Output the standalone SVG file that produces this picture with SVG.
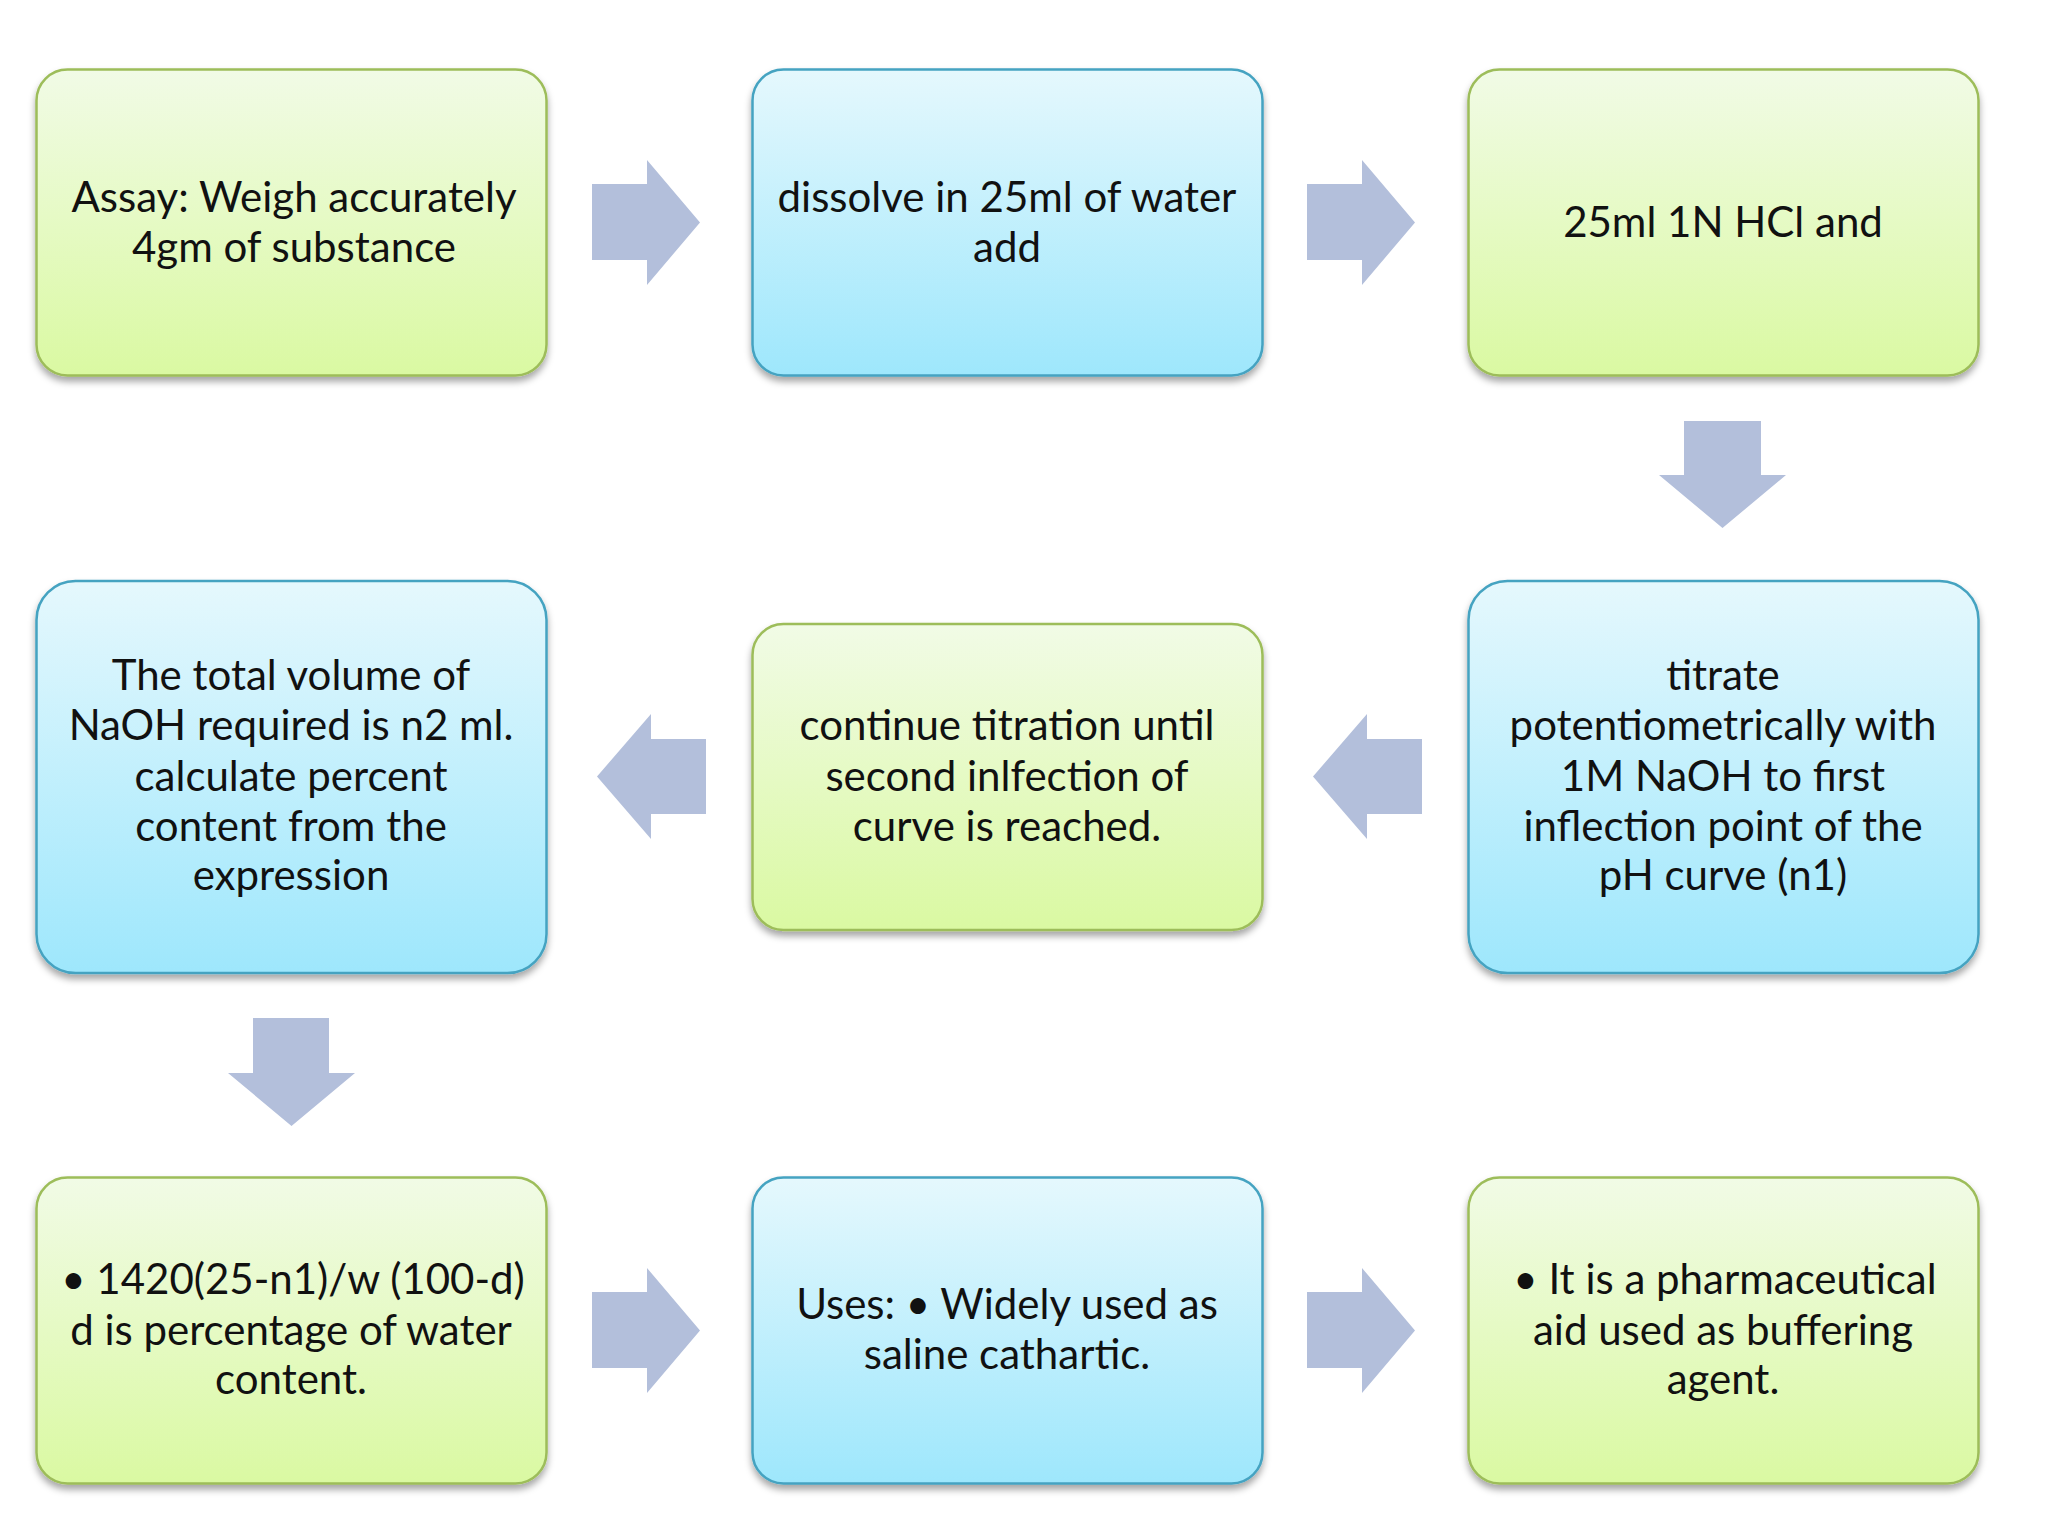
<svg xmlns="http://www.w3.org/2000/svg" width="2048" height="1536" viewBox="0 0 2048 1536">
<defs>
<linearGradient id="gGreen" x1="0" y1="0" x2="0" y2="1">
<stop offset="0" stop-color="#f1fbe6"/>
<stop offset="1" stop-color="#daf9a2"/>
</linearGradient>
<linearGradient id="gBlue" x1="0" y1="0" x2="0" y2="1">
<stop offset="0" stop-color="#e5f8fd"/>
<stop offset="1" stop-color="#9ee7fc"/>
</linearGradient>
<filter id="shadow" x="-10%" y="-10%" width="120%" height="125%">
<feDropShadow dx="0" dy="5" stdDeviation="3.5" flood-color="#000" flood-opacity="0.35"/>
</filter>
</defs>
<style>
.green { fill: url(#gGreen); stroke: #9dbd5a; stroke-width: 2.5; filter: url(#shadow); }
.blue { fill: url(#gBlue); stroke: #45a3c1; stroke-width: 2.5; filter: url(#shadow); }
.arrow { fill: #b3bfdb; }
text { font-family: Lato, "Liberation Sans", sans-serif; font-size: 42px; fill: #111; text-anchor: middle; }
</style>
<rect width="2048" height="1536" fill="#ffffff"/>
<g id="connectors">
<polygon class="arrow" points="592,184 647,184 647,160 700,222.5 647,285 647,260 592,260"/>
<polygon class="arrow" points="1307,184 1362,184 1362,160 1415,222.5 1362,285 1362,260 1307,260"/>
<polygon class="arrow" points="1684,421 1761,421 1761,475 1786,475 1722.5,528 1659,475 1684,475"/>
<polygon class="arrow" points="1422,739 1367,739 1367,714 1313,776.5 1367,839 1367,814 1422,814"/>
<polygon class="arrow" points="706,739 651,739 651,714 597,776.5 651,839 651,814 706,814"/>
<polygon class="arrow" points="253,1018 329,1018 329,1073 355,1073 291.5,1126 228,1073 253,1073"/>
<polygon class="arrow" points="592,1292 647,1292 647,1268 700,1330.5 647,1393 647,1368 592,1368"/>
<polygon class="arrow" points="1307,1292 1362,1292 1362,1268 1415,1330.5 1362,1393 1362,1368 1307,1368"/>
</g>
<g id="n1">
<rect class="green" x="36.5" y="69.5" width="510" height="306" rx="31"/>
<text x="294" y="211.5">Assay: Weigh accurately</text>
<text x="294" y="261.5">4gm of substance</text>
</g>
<g id="n2">
<rect class="blue" x="752.5" y="69.5" width="510" height="306" rx="31"/>
<text x="1007" y="211.5">dissolve in 25ml of water</text>
<text x="1007" y="261.5">add</text>
</g>
<g id="n3">
<rect class="green" x="1468.5" y="69.5" width="510" height="306" rx="31"/>
<text x="1723" y="236.5">25ml 1N HCl and</text>
</g>
<g id="n4">
<rect class="blue" x="1468.5" y="581" width="510" height="392" rx="39"/>
<text x="1723" y="689.5">titrate</text>
<text x="1723" y="739.5">potentiometrically with</text>
<text x="1723" y="790.5">1M NaOH to first</text>
<text x="1723" y="840.5">inflection point of the</text>
<text x="1723" y="889.5">pH curve (n1)</text>
</g>
<g id="n5">
<rect class="green" x="752.5" y="624" width="510" height="306" rx="31"/>
<text x="1007" y="739.5">continue titration until</text>
<text x="1007" y="790.5">second inlfection of</text>
<text x="1007" y="840.5">curve is reached.</text>
</g>
<g id="n6">
<rect class="blue" x="36.5" y="581" width="510" height="392" rx="39"/>
<text x="291" y="689.5">The total volume of</text>
<text x="291" y="739.5">NaOH required is n2 ml.</text>
<text x="291" y="790.5">calculate percent</text>
<text x="291" y="840.5">content from the</text>
<text x="291" y="889.5">expression</text>
</g>
<g id="n7">
<rect class="green" x="36.5" y="1177.5" width="510" height="306" rx="31"/>
<text x="293" y="1293.5">• 1420(25-n1)/w (100-d)</text>
<text x="291" y="1344.5">d is percentage of water</text>
<text x="291" y="1393.5">content.</text>
</g>
<g id="n8">
<rect class="blue" x="752.5" y="1177.5" width="510" height="306" rx="31"/>
<text x="1007" y="1318.5">Uses: • Widely used as</text>
<text x="1007" y="1368.5">saline cathartic.</text>
</g>
<g id="n9">
<rect class="green" x="1468.5" y="1177.5" width="510" height="306" rx="31"/>
<text x="1725" y="1293.5">• It is a pharmaceutical</text>
<text x="1723" y="1344.5">aid used as buffering</text>
<text x="1723" y="1393.5">agent.</text>
</g>
</svg>
